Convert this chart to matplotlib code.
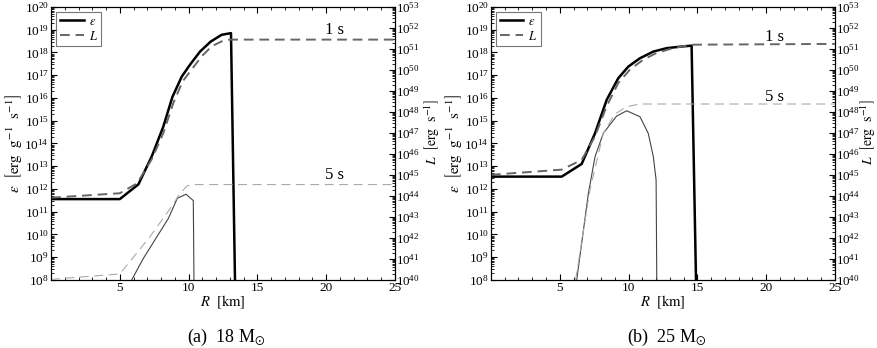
import numpy as np
import matplotlib
matplotlib.use('Agg')
from matplotlib import pyplot as plt
from matplotlib.ticker import LogLocator, MultipleLocator, NullFormatter

plt.rcParams['font.family'] = ['Liberation Serif', 'DejaVu Serif']
plt.rcParams['mathtext.fontset'] = 'stix'

# ---- (a) 18 Msun
r_eps1_a = [0, 5.0, 6.35, 7.32, 8.16, 8.82, 9.5, 10.1, 10.83, 11.6, 12.4, 13.08, 13.37]
eps1_a = [3.6e11, 3.6e11, 1.6e12, 2.7e13, 5.5e14, 1.1e16, 8.7e16, 2.9e17, 1.1e18, 3.0e18, 6.0e18, 7.1e18, 1e8]
r_L1_a = [0, 5.0, 6.25, 7.32, 8.16, 8.89, 9.57, 10.22, 10.95, 11.68, 12.4, 13.0, 25]
L1_a = [8.3e43, 1.35e44, 4.0e44, 5.6e45, 9.8e46, 2.7e48, 2.9e49, 1.05e50, 4.5e50, 1.35e51, 2.3e51, 2.8e51, 2.8e51]
r_eps5_a = [5.86, 6.71, 8.53, 9.18, 9.81, 10.34, 10.39]
eps5_a = [1e8, 8.9e8, 5.1e10, 3.9e11, 5.9e11, 3.1e11, 1e8]
r_L5_a = [0, 5.0, 7.19, 8.77, 9.38, 9.91, 10.47, 25]
L5_a = [1.07e40, 1.95e40, 1.15e42, 3.2e43, 1.35e44, 3.1e44, 3.5e44, 3.5e44]

# ---- (b) 25 Msun
r_eps1_b = [0, 5.14, 6.59, 7.56, 8.41, 9.25, 9.98, 10.83, 11.8, 12.77, 13.73, 14.58, 14.9]
eps1_b = [3.5e12, 3.5e12, 1.26e13, 2.8e14, 8.3e15, 7.4e16, 2.4e17, 5.6e17, 1.1e18, 1.55e18, 1.8e18, 2.0e18, 1e8]
r_L1_b = [0, 5.14, 6.59, 7.56, 8.41, 9.25, 10.1, 11.07, 12.04, 13.25, 14.58, 25]
L1_b = [1.02e45, 1.8e45, 5.2e45, 6.9e46, 1.9e48, 2.4e49, 1.05e50, 3.1e50, 6.5e50, 1.1e51, 1.6e51, 1.75e51]
r_eps5_b = [6.23, 7.08, 7.56, 8.16, 9.13, 9.86, 10.83, 11.43, 11.8, 12.0, 12.05]
eps5_b = [1e8, 6.5e11, 2.6e13, 2.8e14, 1.6e15, 2.75e15, 1.5e15, 2.8e14, 2.6e13, 2.5e12, 1e8]
r_L5_b = [6.15, 7.19, 8.16, 9.0, 9.86, 10.83, 25]
L5_b = [1e40, 1.95e44, 9.5e46, 7.9e47, 1.8e48, 2.4e48, 2.4e48]

captions = ['(a)  18 M$_{\\odot}$', '(b)  25 M$_{\\odot}$']
label_pos_a = [(20.6, 1.0e19), (20.6, 4.0e12)]
label_pos_b = [(20.6, 4.7e18), (20.6, 1.15e16)]

fig = plt.figure(figsize=(8.78, 3.48), dpi=100)

def poner_ticks_log(eje):
    eje.yaxis.set_major_locator(LogLocator(base=10, numticks=30))
    eje.yaxis.set_minor_locator(LogLocator(base=10, subs=np.arange(2, 10), numticks=30))
    eje.yaxis.set_minor_formatter(NullFormatter())
    eje.tick_params(which='major', length=4, width=0.8)
    eje.tick_params(which='minor', length=2, width=0.6)

def poner_ejes(ax):
    ax.set_xlim(0, 25)
    ax.set_yscale('log')
    ax.set_ylim(1e8, 1e20)
    ax.xaxis.set_minor_locator(MultipleLocator(1))
    ax.set_xticks([5, 10, 15, 20, 25])
    poner_ticks_log(ax)
    ax.tick_params(which='both', direction='in', top=True, right=False, labelsize=9.5, pad=1.5)
    ax.set_xlabel('$R\\ \\ \\left[\\mathrm{km}\\right]$', fontsize=10.5, labelpad=0)
    ax.set_ylabel('$\\epsilon\\ \\ \\left[\\mathrm{erg}\\ \\ \\mathrm{g}^{-1}\\ \\ \\mathrm{s}^{-1}\\right]$',
                  fontsize=11, labelpad=0)

def panel(left, r_e1, e1, r_l1, l1, r_e5, e5, r_l5, l5, textos, caption, x_label_L):
    ax = fig.add_axes([left, 0.1954, 0.3918, 0.7845])
    ax2 = ax.twinx()
    poner_ejes(ax)

    ax.plot(r_e1, e1, color='black', lw=1.8, label='$\\epsilon$', zorder=4)
    ax.plot(r_e5, e5, color='#444444', lw=0.8, zorder=3)
    ax.plot([], [], color='#666666', lw=1.4, ls=(0, (5, 3)), label='$L$')

    ax2.set_yscale('log')
    ax2.set_ylim(1e40, 1e53)
    ax2.plot(r_l1, l1, color='#666666', lw=1.4, ls=(0, (5, 3)))
    ax2.plot(r_l5, l5, color='#aaaaaa', lw=0.8, ls=(0, (8, 5)))
    poner_ticks_log(ax2)
    ax2.tick_params(which='both', direction='in', labelsize=9.3, pad=1)
    ax2.set_ylabel('$L\\ \\ \\left[\\mathrm{erg}\\ \\ \\mathrm{s}^{-1}\\right]$', fontsize=10)
    ax2.yaxis.set_label_coords(x_label_L, 0.54)
    ax2.yaxis.label.set_ha('center')
    ax2.yaxis.label.set_va('center')

    leg = ax.legend(loc='upper left', fontsize=9, handlelength=1.9, borderpad=0.3,
                    labelspacing=0.15, handletextpad=0.4, fancybox=False,
                    borderaxespad=0.4)
    leg.get_frame().set_edgecolor('#555555')
    leg.get_frame().set_linewidth(0.8)

    for txt, (x, y) in zip(['1 s', '5 s'], textos):
        ax.text(x, y, txt, fontsize=12, ha='center', va='center')

    fig.text(left + 0.3918 / 2 + 0.004, 0.03, caption, fontsize=13, ha='center', va='center')

panel(0.0581, r_eps1_a, eps1_a, r_L1_a, L1_a, r_eps5_a, eps5_a, r_L5_a, L5_a,
      label_pos_a, captions[0], 1.108)
panel(0.5592, r_eps1_b, eps1_b, r_L1_b, L1_b, r_eps5_b, eps5_b, r_L5_b, L5_b,
      label_pos_b, captions[1], 1.096)

fig.savefig('out.png', dpi=100)
